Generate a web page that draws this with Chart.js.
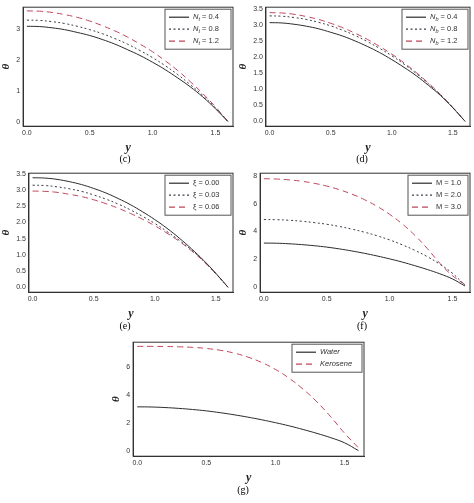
<!DOCTYPE html>
<html><head><meta charset="utf-8">
<script src="https://cdn.jsdelivr.net/npm/chart.js@4/dist/chart.umd.min.js"></script>
<style>
body{margin:0;background:#fff;width:474px;height:503px;position:relative;font-family:"DejaVu Serif",serif}
.w{position:absolute}
.lab{position:absolute;font-size:10px;text-align:center;width:40px;font-family:"Liberation Serif",serif}
</style></head><body>
<div class="w" style="left:0;top:0;width:237px;height:155px"><canvas id="c"></canvas></div>
<div class="w" style="left:237px;top:0;width:237px;height:155px"><canvas id="d"></canvas></div>
<div class="w" style="left:0;top:166px;width:237px;height:155px"><canvas id="e"></canvas></div>
<div class="w" style="left:237px;top:166px;width:237px;height:155px"><canvas id="f"></canvas></div>
<div class="w" style="left:110px;top:335px;width:258px;height:150px"><canvas id="g"></canvas></div>
<div class="lab" style="left:105px;top:153px">(c)</div>
<div class="lab" style="left:342px;top:153px">(d)</div>
<div class="lab" style="left:105px;top:320px">(e)</div>
<div class="lab" style="left:342px;top:320px">(f)</div>
<div class="lab" style="left:223px;top:484px">(g)</div>
<script>
const yPts=[0,0.1,0.2,0.3,0.4,0.5,0.6,0.7,0.8,0.9,1.0,1.1,1.2,1.3,1.4,1.5,1.6];
// (c)
const cLabels=["N_t = 0.4","N_t = 0.8","N_t = 1.2"];
const cNt04=[3.10,3.09,3.05,2.99,2.90,2.80,2.67,2.52,2.34,2.15,1.93,1.69,1.42,1.13,0.80,0.42,0.00];
const cNt08=[3.30,3.29,3.25,3.19,3.10,2.99,2.86,2.70,2.52,2.31,2.08,1.82,1.53,1.20,0.85,0.45,0.00];
const cNt12=[3.60,3.59,3.55,3.48,3.39,3.27,3.12,2.95,2.75,2.52,2.27,1.98,1.66,1.30,0.91,0.48,0.00];
// (d)
const dLabels=["N_b = 0.4","N_b = 0.8","N_b = 1.2"];
const dNb04=[3.07,3.06,3.02,2.96,2.88,2.77,2.65,2.50,2.33,2.14,1.92,1.68,1.42,1.12,0.80,0.42,0.00];
const dNb08=[3.28,3.27,3.23,3.17,3.08,2.97,2.83,2.67,2.48,2.27,2.04,1.78,1.49,1.17,0.82,0.43,0.00];
const dNb12=[3.38,3.37,3.33,3.26,3.17,3.05,2.91,2.74,2.55,2.33,2.09,1.82,1.52,1.19,0.83,0.43,0.00];
// (e)
const eLabels=["\u03be = 0.00","\u03be = 0.03","\u03be = 0.06"];
const eXi000=[3.38,3.37,3.33,3.26,3.17,3.05,2.91,2.74,2.55,2.33,2.09,1.82,1.52,1.19,0.83,0.43,0.00];
const eXi003=[3.15,3.14,3.10,3.04,2.96,2.85,2.72,2.57,2.39,2.19,1.97,1.72,1.45,1.15,0.81,0.42,0.00];
const eXi006=[2.97,2.96,2.93,2.87,2.80,2.70,2.58,2.44,2.28,2.10,1.90,1.67,1.42,1.13,0.80,0.42,0.00];
// (f)
const fLabels=["M = 1.0","M = 2.0","M = 3.0"];
const fM1=[3.15,3.14,3.10,3.04,2.96,2.86,2.73,2.58,2.41,2.22,2.01,1.78,1.52,1.24,0.93,0.56,0.05];
const fM2=[4.85,4.84,4.80,4.73,4.63,4.51,4.35,4.16,3.94,3.68,3.38,3.03,2.63,2.17,1.62,0.97,0.10];
const fM3=[7.80,7.78,7.72,7.62,7.47,7.27,7.01,6.69,6.29,5.81,5.23,4.54,3.72,2.76,1.69,0.80,0.15];
// (g)
const gLabels=["Water","Kerosene"];
const gWater=[3.15,3.14,3.10,3.04,2.96,2.86,2.73,2.58,2.41,2.22,2.01,1.78,1.52,1.24,0.93,0.56,0.00];
const gKero=[7.50,7.50,7.49,7.47,7.43,7.35,7.22,7.02,6.73,6.34,5.84,5.20,4.42,3.50,2.43,1.25,0.20];

const styles=[
 {c:'#2b2b2b',d:[]},
 {c:'#3c3c4a',d:[2,2.5]},
 {c:'#c0465a',d:[6,4]}];
const legendBox={id:'lb',afterDraw(ch,a,o){
 const x=ch.ctx,ca=ch.chartArea;
 x.save();x.strokeStyle='#333';x.lineWidth=1;
 x.strokeRect(ca.left,ca.top,ca.right-ca.left,ca.bottom-ca.top);
 const ds=ch.data.datasets,rh=12,w=o.w;
 const bx=ca.right-w-2,by=ca.top+2;
 x.fillStyle='#fff';x.fillRect(bx,by,w,ds.length*rh+4);
 x.strokeStyle='#555';x.strokeRect(bx,by,w,ds.length*rh+4);
 ds.forEach((d,i)=>{const yy=by+8+i*rh;
  x.strokeStyle=d.borderColor;x.setLineDash(d.borderDash||[]);x.lineWidth=1.2;
  x.beginPath();x.moveTo(bx+4,yy);x.lineTo(bx+24,yy);x.stroke();x.setLineDash([]);
  x.fillStyle='#333';x.textBaseline='middle';
  const f=(o.it?'italic ':'');
  let tx=bx+28,lab=d.label;
  const m=lab.match(/^(\w)_(\w)(.*)$/);
  if(m){x.font='italic 7.5px "Liberation Sans"';x.fillText(m[1],tx,yy);tx+=x.measureText(m[1]).width;
   x.font='italic 5.5px "Liberation Sans"';x.fillText(m[2],tx,yy+2);tx+=x.measureText(m[2]).width;lab=m[3];}
  x.font=f+'7.5px "Liberation Sans"';x.fillText(lab,tx,yy);});
 x.restore();}};
function mk(id,labels,series,ymin,ymax,step,lw,it,stylesIdx){
 new Chart(document.getElementById(id),{type:'line',
  data:{datasets:series.map((s,i)=>{const st=styles[stylesIdx?stylesIdx[i]:i];return{label:labels[i],
   data:yPts.map((v,j)=>({x:v,y:s[j]})),borderColor:st.c,borderDash:st.d,borderWidth:1,pointRadius:0,tension:0.4};})},
  options:{responsive:true,maintainAspectRatio:false,animation:false,
   layout:{padding:{right:4,top:2}},
   plugins:{legend:{display:false},tooltip:{enabled:false},lb:{w:lw,it:it}},
   scales:{
    x:{type:'linear',min:-0.03,max:1.64,afterBuildTicks:a=>{a.ticks=[0,0.5,1,1.5].map(v=>({value:v}))},
     grid:{display:false,drawTicks:false},border:{color:'#333'},
     ticks:{font:{size:7},color:'#333',padding:3,callback:v=>v.toFixed(1)},
     title:{display:true,text:'y',font:{size:12,style:'italic',weight:'bold',family:'Liberation Serif'},color:'#222',padding:0}},
    y:{min:ymin,max:ymax,afterBuildTicks:a=>{const t=[];for(let v=0;v<=ymax+1e-9;v+=step)t.push({value:+v.toFixed(2)});a.ticks=t;},
     grid:{display:false,drawTicks:false},border:{color:'#333'},
     ticks:{font:{size:7},color:'#333',padding:3,callback:v=>step<1?v.toFixed(1):String(v)},
     title:{display:true,text:'\u03b8',font:{size:11,style:'italic',weight:'bold',family:'Liberation Serif'},color:'#222',padding:0}}}},
  plugins:[legendBox]});
}
mk('c',cLabels,[cNt04,cNt08,cNt12],-0.15,3.72,1,66);
mk('d',dLabels,[dNb04,dNb08,dNb12],-0.15,3.55,0.5,66);
mk('e',eLabels,[eXi000,eXi003,eXi006],-0.15,3.52,0.5,66);
mk('f',fLabels,[fM1,fM2,fM3],-0.4,8.2,2,60);
mk('g',gLabels,[gWater,gKero],-0.4,7.8,2,70,true,[0,2]);
</script></body></html>
